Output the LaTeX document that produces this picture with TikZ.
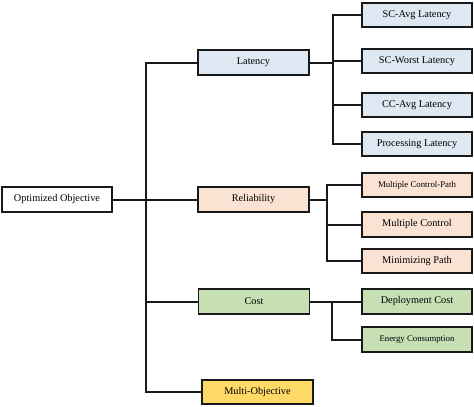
\documentclass[tikz,border=0pt]{standalone}
\usepackage{fontspec}
\setmainfont{Liberation Serif}
\definecolor{cblue}{HTML}{DEE8F2}
\definecolor{cpeach}{HTML}{FBE3D4}
\definecolor{cgreen}{HTML}{C6E0B4}
\definecolor{cyellow}{HTML}{FFD966}
\begin{document}
\begin{tikzpicture}[x=1pt,y=-1pt,
  box/.style={draw=black!90,line width=1.5pt,minimum height=24pt,inner sep=0pt,font=\fontsize{10.3}{12}\selectfont},
  lvlone/.style={box,minimum width=111pt},
  leaf/.style={box,minimum width=110pt},
  small/.style={font=\fontsize{8.8}{10}\selectfont},
  conn/.style={line width=2pt,black!90}]
\useasboundingbox (0,0) rectangle (474,407);
\node[box,fill=white,minimum width=110pt,minimum height=25pt] (root) at (57,199.5) {Optimized Objective};
\node[lvlone,fill=cblue,minimum height=25pt] (lat) at (253.5,62.5) {Latency};
\node[lvlone,fill=cpeach,minimum height=25pt] (rel) at (253.5,199.5) {Reliability};
\node[lvlone,fill=cgreen,minimum height=25pt] (cost) at (254,301.5) {Cost};
\node[lvlone,fill=cyellow] (multi) at (257.5,392) {Multi-Objective};
\node[leaf,fill=cblue] (scavg) at (417,15) {SC-Avg Latency};
\node[leaf,fill=cblue] (scworst) at (417,61) {SC-Worst Latency};
\node[leaf,fill=cblue] (ccavg) at (417,105) {CC-Avg Latency};
\node[leaf,fill=cblue] (proc) at (417,144) {Processing Latency};
\node[leaf,fill=cpeach,small] (mcp) at (417,185) {Multiple Control-Path};
\node[leaf,fill=cpeach,minimum height=25pt] (mc) at (417,224.5) {Multiple Control};
\node[leaf,fill=cpeach] (mp) at (417,261) {Minimizing Path};
\node[leaf,fill=cgreen,minimum height=25pt] (dep) at (417,301.5) {Deployment Cost};
\node[leaf,fill=cgreen,small,minimum height=25pt] (energy) at (417,339.5) {Energy Consumption};
\coordinate (t0) at (146,0);
\coordinate (t1) at (333,0);
\coordinate (t2) at (327,0);
\coordinate (t3) at (332,0);
% main trunk
\draw[conn] (root.east) -- (rel.west);
\draw[conn] (lat.west) -- (lat.west -| t0) -- (multi.west -| t0) -- (multi.west);
\draw[conn] (cost.west -| t0) -- (cost.west);
% latency
\draw[conn] (lat.east) -- (lat.east -| t1);
\draw[conn] (scavg.west) -- (scavg.west -| t1) -- (proc.west -| t1) -- (proc.west);
\draw[conn] (scworst.west -| t1) -- (scworst.west);
\draw[conn] (ccavg.west -| t1) -- (ccavg.west);
% reliability
\draw[conn] (rel.east) -- (rel.east -| t2);
\draw[conn] (mcp.west) -- (mcp.west -| t2) -- (mp.west -| t2) -- (mp.west);
\draw[conn] (mc.west -| t2) -- (mc.west);
% cost
\draw[conn] (cost.east) -- (dep.west);
\draw[conn] (dep.west -| t3) -- (energy.west -| t3) -- (energy.west);
\end{tikzpicture}
\end{document}
